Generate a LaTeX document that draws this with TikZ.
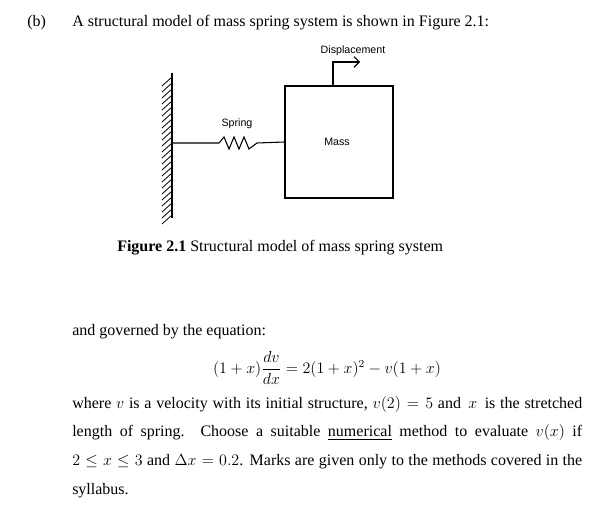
\documentclass[tikz,border=0pt]{standalone}
\usepackage{fontspec}
\setmainfont{Liberation Serif}
\setsansfont{Liberation Sans}
\usepackage{amsmath}
\usetikzlibrary{arrows.meta}
\begin{document}
\begin{tikzpicture}[x=0.75pt,y=-0.75pt,
  txt/.style={anchor=base west,inner sep=0,font=\fontsize{12}{14}\selectfont},
  lab/.style={inner sep=0,font=\sffamily\fontsize{8}{9}\selectfont},
  ln/.style={line width=0.8pt}]
\useasboundingbox (0,0) rectangle (616,516);
\node[txt] (b) at (27,27) {(b)};
\node[txt] (t1) at (72,27) {A structural model of mass spring system is shown in Figure 2.1:};
% wall
\coordinate (w1) at (172,73);
\coordinate (w2) at (172,218);
\draw[ln] (w1) -- (w2);
\foreach \y in {77,83,...,218} \draw[line width=0.6pt] (172,\y) -- (162,\y+9);
% spring
\coordinate (s0) at (172,143);
\coordinate (s1) at (219,143);
\node[draw,ln,minimum width=81,minimum height=84,inner sep=0] (mass) at (339,142) {};
\node[lab] (ml) at (337,142) {Mass};
\draw[ln] (s0) -- (s1) -- (224,137) -- (229,149) -- (234,137) -- (239,149) -- (244,137) -- (249,149) -- (257,143) -- (mass.west);
\node[lab] (sl) at (237,124) {Spring};
% displacement
\coordinate (d0) at (333,86);
\coordinate (d1) at (360,62);
\draw[ln,-{Straight Barb[length=4pt]}] (d0) |- (d1);
\node[lab] (dl) at (353,51) {Displacement};
\node[txt] (cap) at (117,252) {\textbf{Figure 2.1} Structural model of mass spring system};
\node[txt] (t2) at (72,335) {and governed by the equation:};
\node[inner sep=0,font=\fontsize{12}{14}\selectfont] (eq) at (327,368) {$(1+x)\dfrac{dv}{dx}=2(1+x)^2-v(1+x)$};
\node[anchor=north west,inner sep=0,text width=382.5pt,align=justify,font=\fontsize{12}{21.5}\selectfont] (par) at (72,396)
{where $v$ is a velocity with its initial structure, $v(2)=5$ and\, $x$\, is the stretched\linebreak length of spring. Choose a suitable \underline{numerical} method to evaluate $v(x)$ if\linebreak $2\le x\le 3$ and $\Delta x=0.2$. Marks are given only to the methods covered in the\linebreak syllabus.};
\end{tikzpicture}
\end{document}
